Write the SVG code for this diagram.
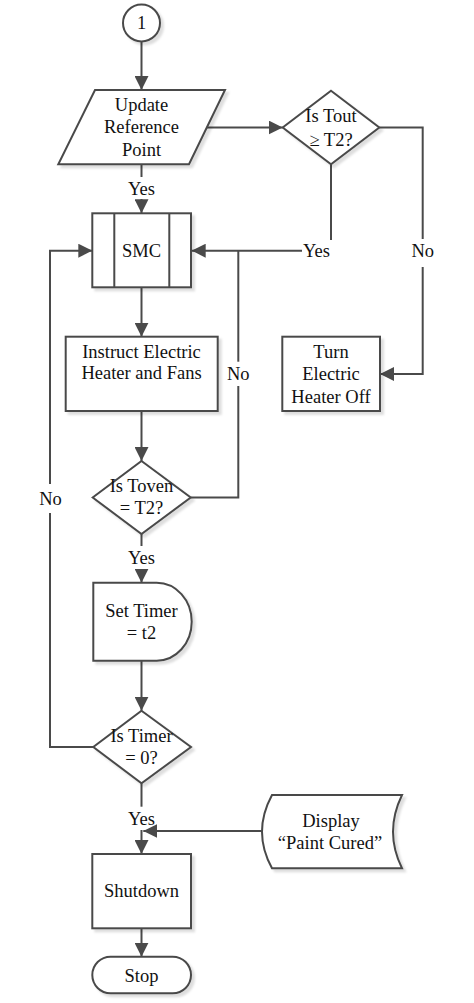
<svg xmlns="http://www.w3.org/2000/svg" width="474" height="1003" viewBox="0 0 474 1003">
<defs>
<style>
.s{fill:#fff;stroke:#4a4a4a;stroke-width:2;filter:url(#sh)}
.l{fill:none;stroke:#4a4a4a;stroke-width:2}
.a{marker-end:url(#ah)}
text{font-family:"Liberation Serif","Times New Roman",serif;font-size:18.5px;fill:#111;text-anchor:middle}
</style>
<filter id="sh" x="-20%" y="-20%" width="150%" height="150%">
<feDropShadow dx="3" dy="3" stdDeviation="1.2" flood-color="#000" flood-opacity="0.13"/>
</filter>
<marker id="ah" markerUnits="userSpaceOnUse" markerWidth="14" markerHeight="14" refX="14" refY="7" orient="auto">
<path d="M0,0 L14,7 L0,14 Z" fill="#4a4a4a"/>
</marker>
</defs>
<rect width="474" height="1003" fill="#fff"/>
<g id="connectors">
<path class="l a" d="M141.5,42 V90"/>
<path class="l" d="M141.5,164.3 V177"/>
<path class="l a" d="M141.5,199 V213.3"/>
<path class="l a" d="M206.8,127.5 H282.7"/>
<path class="l" d="M331,164.3 V240"/>
<path class="l a" d="M302,250.7 H191.7"/>
<path class="l" d="M379.3,127.5 H422.7 V239"/>
<path class="l a" d="M422.7,267 V374 H380"/>
<path class="l a" d="M141.5,287.3 V336.7"/>
<path class="l a" d="M141.5,411 V461"/>
<path class="l" d="M190.7,497.5 H238.3 V386"/>
<path class="l" d="M238.3,361.7 V250.7"/>
<path class="l" d="M141.5,534 V546"/>
<path class="l a" d="M141.5,569 V582.7"/>
<path class="l a" d="M141.5,660.7 V710.7"/>
<path class="l" d="M93.3,747 H50 V513"/>
<path class="l a" d="M50,484 V250.7 H92.3"/>
<path class="l" d="M141.5,783.3 V806.7"/>
<path class="l a" d="M141.5,830 V854"/>
<path class="l a" d="M261.7,831 H143.3"/>
<path class="l a" d="M141.5,928.3 V956.7"/>
<text x="141.5" y="195.3">Yes</text>
<text x="316.5" y="257">Yes</text>
<text x="422.7" y="257">No</text>
<text x="238.3" y="379.7">No</text>
<text x="50.5" y="505">No</text>
<text x="141.5" y="564.3">Yes</text>
<text x="141.5" y="824.7">Yes</text>
</g>
<g id="n1">
<circle class="s" cx="141.5" cy="23" r="18.5"/>
<text x="141.5" y="29">1</text>
</g>
<g id="update">
<polygon class="s" points="95,90 225,90 189,164.3 58.3,164.3"/>
<text x="141.5" y="111">Update</text>
<text x="141.5" y="133.3">Reference</text>
<text x="141.5" y="156">Point</text>
</g>
<g id="tout">
<polygon class="s" points="331,90.7 379.3,127.5 331,164.3 282.7,127.5"/>
<text x="331" y="122.3">Is Tout</text>
<text x="331" y="145.7">≥ T2?</text>
</g>
<g id="smc">
<rect class="s" x="92.3" y="213.3" width="98.7" height="74"/>
<path class="l" d="M114.3,213.3 V287.3 M169.3,213.3 V287.3"/>
<text x="141.5" y="257">SMC</text>
</g>
<g id="instruct">
<rect class="s" x="65.7" y="336.7" width="152" height="74.3"/>
<text x="141.5" y="357.7">Instruct Electric</text>
<text x="141.5" y="379.3">Heater and Fans</text>
</g>
<g id="turnoff">
<rect class="s" x="282.3" y="336.7" width="97.7" height="74.3"/>
<text x="331" y="357.7">Turn</text>
<text x="331" y="379.7">Electric</text>
<text x="331" y="402.7">Heater Off</text>
</g>
<g id="toven">
<polygon class="s" points="141.5,461 190.7,497.5 141.5,534 92.7,497.5"/>
<text x="141.5" y="492">Is Toven</text>
<text x="141.5" y="514.3">= T2?</text>
</g>
<g id="settimer">
<path class="s" d="M93.3,582.7 H156.7 A35,39 0 0 1 156.7,660.7 H93.3 Z"/>
<text x="141.5" y="616.7">Set Timer</text>
<text x="141.5" y="639.3">= t2</text>
</g>
<g id="timer">
<polygon class="s" points="141.5,710.7 191,747 141.5,783.3 93.3,747"/>
<text x="141.5" y="741.7">Is Timer</text>
<text x="141.5" y="764.3">= 0?</text>
</g>
<g id="display">
<path class="s" d="M272,795 L402,795 Q384,832 402,868.3 L272,868.3 Q252,832 272,795 Z"/>
<text x="331" y="826.7">Display</text>
<text x="330" y="848.7">“Paint Cured”</text>
</g>
<g id="shutdown">
<rect class="s" x="92.3" y="854" width="98.7" height="74.3"/>
<text x="141.5" y="896.7">Shutdown</text>
</g>
<g id="stop">
<rect class="s" x="92.3" y="956.7" width="98.7" height="36.6" rx="18.3"/>
<text x="141.5" y="981.7">Stop</text>
</g>
</svg>
